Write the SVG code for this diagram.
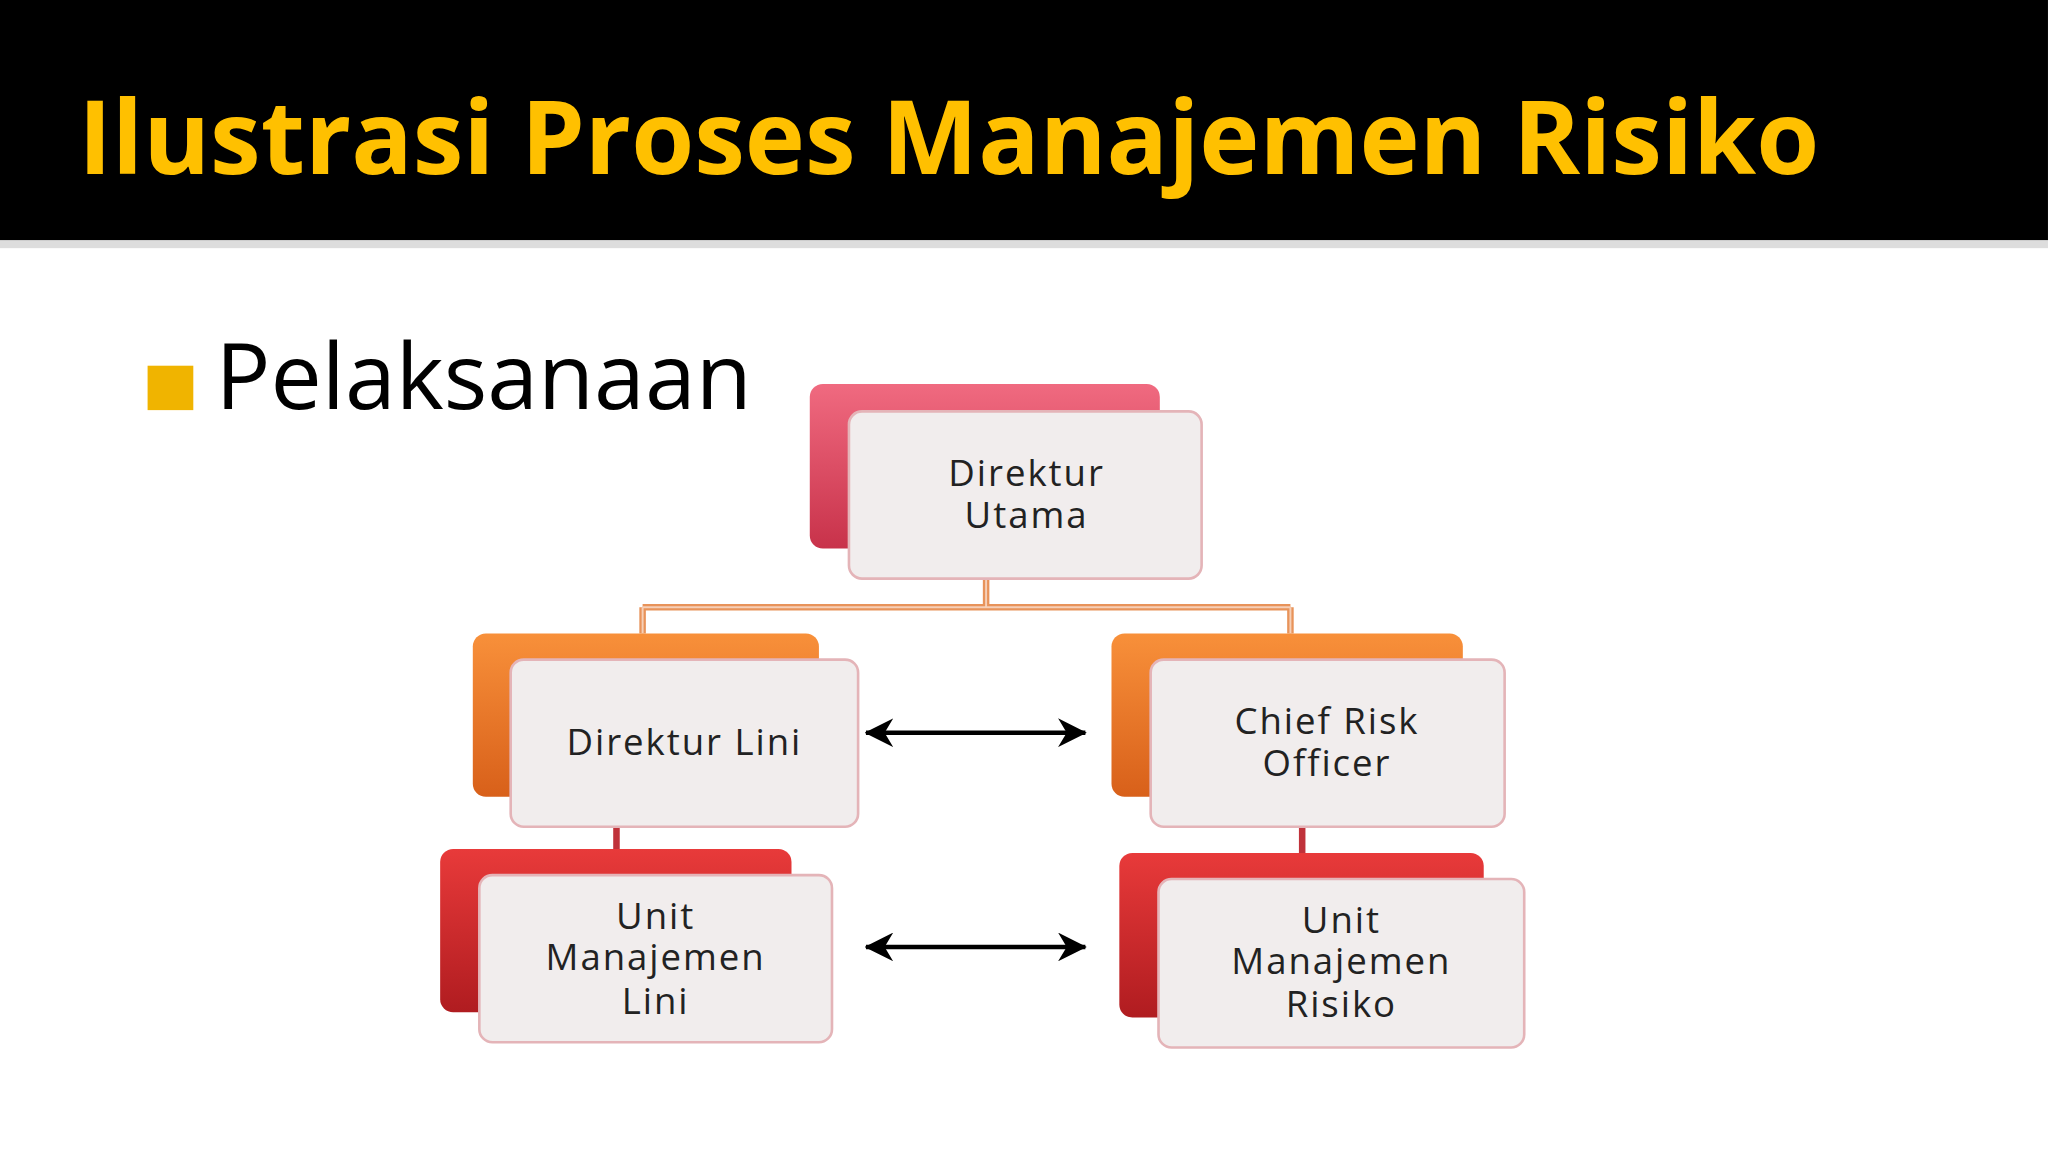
<svg xmlns="http://www.w3.org/2000/svg" width="2048" height="1152" viewBox="0 0 2048 1152">
<defs>
<style>
.front{fill:#f1eded;stroke:#e4b4b8;stroke-width:2}
.lbl{font-family:"Open Sans","DejaVu Sans",sans-serif;font-size:28px;fill:#222;text-anchor:middle;letter-spacing:1.5px}
.arr{stroke:#000;stroke-width:3.5;fill:none}
</style>
<linearGradient id="gPink" x1="0" y1="0" x2="0" y2="1"><stop offset="0" stop-color="#f06a80"/><stop offset="1" stop-color="#c8324a"/></linearGradient>
<linearGradient id="gOr" x1="0" y1="0" x2="0" y2="1"><stop offset="0" stop-color="#f8903a"/><stop offset="1" stop-color="#d8601a"/></linearGradient>
<linearGradient id="gRed" x1="0" y1="0" x2="0" y2="1"><stop offset="0" stop-color="#e83a3a"/><stop offset="1" stop-color="#b01c20"/></linearGradient>
<marker id="ah" viewBox="0 0 20 20" refX="19" refY="10" markerWidth="22" markerHeight="22" orient="auto-start-reverse" markerUnits="userSpaceOnUse"><path d="M0,0 L20,10 L0,20 L6,10 Z" fill="#000"/></marker>
</defs>
<rect width="2048" height="1152" fill="#fff"/>
<g transform="scale(1.3061)">
<rect x="0" y="0" width="1568" height="184" fill="#000"/>
<rect x="0" y="184" width="1568" height="6" fill="#ddd"/>
<text x="60" y="133" font-family="'Open Sans','DejaVu Sans',sans-serif" font-weight="bold" font-size="78" fill="#ffc000">Ilustrasi Proses Manajemen Risiko</text>
<rect x="113" y="280" width="35" height="34" fill="#f0b400"/>
<text x="165" y="313" font-family="'Open Sans','DejaVu Sans',sans-serif" font-size="70" fill="#000">Pelaksanaan</text>
<g id="connectors">
<path d="M755,443 V465 M492,465 H988 M492,465 V485 M988,465 V485" stroke="#e8935a" stroke-width="5" fill="none"/>
<path d="M755,443 V465 M492,465 H988 M492,465 V485 M988,465 V485" stroke="#f6d0b8" stroke-width="1.5" fill="none"/>
<path d="M472,633 V650 M997,633 V653" stroke="#c0323a" stroke-width="5" fill="none"/>
<line class="arr" x1="663" y1="561" x2="831" y2="561" marker-start="url(#ah)" marker-end="url(#ah)"/>
<line class="arr" x1="663" y1="725" x2="831" y2="725" marker-start="url(#ah)" marker-end="url(#ah)"/>
</g>
<g id="n-dirut"><rect x="620" y="294" width="268" height="126" rx="10" fill="url(#gPink)"/><rect class="front" x="650" y="315" width="270" height="128" rx="10"/><text class="lbl" x="786" y="372">Direktur</text><text class="lbl" x="786" y="404">Utama</text></g>
<g id="n-dirlini"><rect x="362" y="485" width="265" height="125" rx="10" fill="url(#gOr)"/><rect class="front" x="391" y="505" width="266" height="128" rx="10"/><text class="lbl" x="524" y="578">Direktur Lini</text></g>
<g id="n-cro"><rect x="851" y="485" width="269" height="125" rx="10" fill="url(#gOr)"/><rect class="front" x="881" y="505" width="271" height="128" rx="10"/><text class="lbl" x="1016" y="562">Chief Risk</text><text class="lbl" x="1016" y="594">Officer</text></g>
<g id="n-uml"><rect x="337" y="650" width="269" height="125" rx="10" fill="url(#gRed)"/><rect class="front" x="367" y="670" width="270" height="128" rx="10"/><text class="lbl" x="502" y="711">Unit</text><text class="lbl" x="502" y="743">Manajemen</text><text class="lbl" x="502" y="776">Lini</text></g>
<g id="n-umr"><rect x="857" y="653" width="279" height="126" rx="10" fill="url(#gRed)"/><rect class="front" x="887" y="673" width="280" height="129" rx="10"/><text class="lbl" x="1027" y="714">Unit</text><text class="lbl" x="1027" y="746">Manajemen</text><text class="lbl" x="1027" y="779">Risiko</text></g>
</g>
</svg>
